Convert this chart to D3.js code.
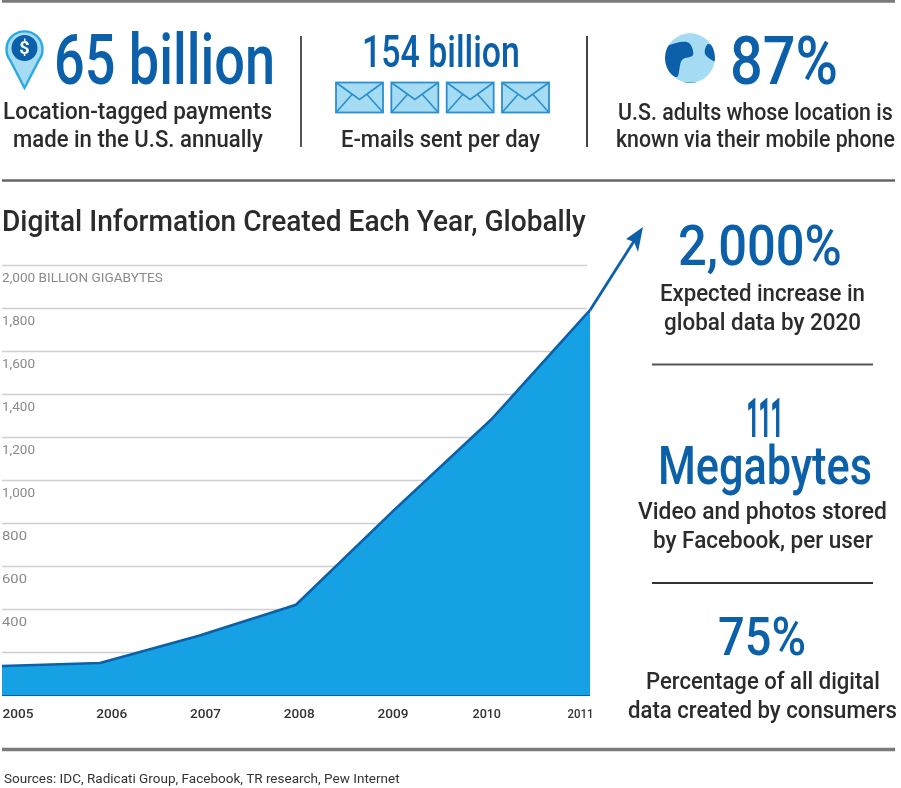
<!DOCTYPE html>
<html><head><meta charset="utf-8">
<script src="https://cdn.jsdelivr.net/npm/d3@7"></script>
<style>html,body{margin:0;padding:0;background:#fff}svg{display:block;filter:blur(0.35px)}text{font-family:Roboto,"Liberation Sans",sans-serif}</style>
</head><body><svg id="c" width="901" height="788"></svg>
<script>
const years = [2005, 2006, 2007, 2008, 2009, 2010, 2011];
const infoBillions = [135, 149, 274, 420, 860, 1285, 1790];
const gridTicks = [0, 200, 400, 600, 800, 1000, 1200, 1400, 1600, 1800, 2000];
const hiddenTickLabels = [0, 200];
const envelopes = ["e1", "e2", "e3", "e4"];

const BLUE = "#0b60a9", AREA = "#15a1e4", PALE = "#a5dcf4", INK = "#2b2b2d", RULE = "#7b7b7b";
const svg = d3.select("#c");

// squeeze a text horizontally to the width it has in the condensed original
function squeeze(node, width, tx, ty) {
  const k = width / node.getComputedTextLength();
  const pre = tx === undefined ? "" : `translate(${tx},${ty}) `;
  d3.select(node).attr("transform", `${pre}scale(${k},1)`);
}
function label(t, x0, x1, base, size, color, weight) {
  const s = svg.append("text").attr("font-size", size)
    .attr("font-weight", weight).attr("fill", color).text(t);
  squeeze(s.node(), x1 - x0, x0, base);
  return s;
}
const hero = (t, x0, x1, base, size) => label(t, x0, x1, base, size, BLUE, 500);
const body = (t, x0, x1, base) => label(t, x0, x1, base, 24, INK, 500);
function rule(x1, y1, x2, y2, w, c) {
  svg.append("line").attr("x1", x1).attr("y1", y1).attr("x2", x2).attr("y2", y2)
    .attr("stroke", c || RULE).attr("stroke-width", w);
}

// frame rules
rule(2, 1, 895, 1, 3.5);
rule(2, 180.5, 895, 180.5, 2.5, "#666");
rule(2, 749.5, 895, 749.5, 3.5);
rule(301, 36, 301, 147, 2, "#555");
rule(587, 36, 587, 147, 2, "#444");
rule(652, 364.5, 873, 364.5, 2, "#555");
rule(652, 583, 873, 583, 2, "#333");

// scales
const x = d3.scaleLinear().domain(d3.extent(years)).range([2, 590]);
const y = d3.scaleLinear().domain([0, 2000]).range([695, 265]);
const xLabel = d3.scalePoint().domain(years).range([17.5, 580]);

// grid + value labels
const gridG = svg.append("g").attr("transform", "translate(2,0)")
  .call(d3.axisRight(y).tickValues(gridTicks).tickSize(585)
    .tickFormat(d => hiddenTickLabels.includes(d) ? "" : d === 2000 ? "2,000 BILLION GIGABYTES" : d3.format(",")(d)));
gridG.select(".domain").remove();
gridG.selectAll("line").attr("stroke", "#cfcfd3").attr("stroke-width", 1.6);
gridG.selectAll("text").attr("x", 0).attr("dy", 0).attr("y", 17).attr("text-anchor", "start")
  .attr("font-size", 12.5).attr("fill", "#8a8a8a").style("font-family", "Roboto")
  .each(function (d) {
    if (hiddenTickLabels.includes(d)) return;
    squeeze(this, d === 2000 ? 161 : d >= 1000 ? 33 : 25);
  });

// area + line
const series = years.map((yr, i) => ({ yr, v: infoBillions[i] }));
svg.append("path").datum(series).attr("fill", AREA)
  .attr("d", d3.area().x(d => x(d.yr)).y0(y(0)).y1(d => y(d.v)));
svg.append("path").datum(series).attr("fill", "none").attr("stroke", BLUE).attr("stroke-width", 2.6)
  .attr("stroke-linejoin", "round")
  .attr("d", d3.line().x(d => x(d.yr)).y(d => y(d.v)));
rule(2, 695.5, 590, 695.5, 1, "#0c5e96");

// arrow extending the curve
const last = series[series.length - 1];
svg.append("path").attr("fill", "none").attr("stroke", BLUE).attr("stroke-width", 2.8)
  .attr("d", `M${x(last.yr)},${y(last.v)} L636,238`);
svg.append("path").attr("fill", BLUE).attr("d", "M643,227 L626,239 L634,242 L638,252 Z");

// x axis labels
const xAxisG = svg.append("g").attr("transform", "translate(0,718)")
  .call(d3.axisBottom(xLabel).tickSize(0).tickPadding(0).tickFormat(d3.format("d")));
xAxisG.select(".domain").remove();
xAxisG.selectAll("text").attr("y", 0).attr("dy", 0).attr("font-size", 13.5).attr("fill", "#333")
  .style("font-family", "Roboto").attr("font-weight", 500)
  .each(function (d) {
    const ones = String(d).split("1").length - 1;
    squeeze(this, 31 - ones * 2.5);
  });

// title + source
label("Digital Information Created Each Year, Globally", 2, 586, 231, 30, INK, 500);
label("Sources: IDC, Radicati Group, Facebook, TR research, Pew Internet", 4, 400, 783, 13, "#333", 400);

// top row
hero("65 billion", 54, 275, 84, 70);
body("Location-tagged payments", 3, 272, 119);
body("made in the U.S. annually", 13, 263, 147);
hero("154 billion", 362, 520, 67, 44);
body("E-mails sent per day", 341, 540, 147);
hero("87%", 730, 838, 84, 67);
body("U.S. adults whose location is", 618, 893, 120);
body("known via their mobile phone", 616, 895, 147);

// right column
hero("2,000%", 678, 842, 265, 56);
body("Expected increase in", 660, 865, 301);
body("global data by 2020", 664, 861, 330);
hero("111", 747, 783, 436, 52).attr("stroke", BLUE).attr("stroke-width", 2.2);
hero("Megabytes", 658, 872, 484, 54);
body("Video and photos stored", 638, 887, 519);
body("by Facebook, per user", 653, 873, 548);
hero("75%", 718, 806, 655, 54);
body("Percentage of all digital", 646, 880, 689);
body("data created by consumers", 628, 897, 718);

// pin icon
const pin = svg.append("g");
pin.append("path").attr("fill", PALE).attr("stroke", "#29abe2").attr("stroke-width", 2.4)
  .attr("d", "M24.5,88 L10,60 A18,18 0 1 1 39,60 Z");
pin.append("circle").attr("cx", 24.5).attr("cy", 48).attr("r", 13).attr("fill", BLUE);
pin.append("text").attr("x", 24.5).attr("y", 54).attr("text-anchor", "middle")
  .attr("font-size", 18).attr("font-weight", 700).attr("fill", "#fff").text("$");

// envelopes
const envX = d3.scalePoint().domain(envelopes).range([336, 502]);
const env = svg.selectAll("g.env").data(envelopes).join("g").attr("class", "env")
  .attr("transform", d => `translate(${envX(d)},82.5)`);
env.append("rect").attr("width", 47).attr("height", 30).attr("fill", PALE).attr("stroke", "#2a8fd0").attr("stroke-width", 1.8);
env.append("path").attr("fill", "none").attr("stroke", "#2a8fd0").attr("stroke-width", 1.6)
  .attr("d", "M0,0 L23.5,17 L47,0 M0,30 L16,12 M47,30 L31,12");

// globe icon
const defs = svg.append("defs");
defs.append("clipPath").attr("id", "globe").append("circle").attr("cx", 690).attr("cy", 58).attr("r", 25);
const globe = svg.append("g").attr("clip-path", "url(#globe)");
globe.append("circle").attr("cx", 690).attr("cy", 58).attr("r", 25).attr("fill", PALE);
const blob = d3.line().curve(d3.curveCatmullRomClosed);
globe.append("path").attr("fill", BLUE).attr("d", blob([[662, 50], [676, 43], [689, 43], [693, 55], [682, 60], [677, 77], [669, 72], [662, 60]]));
globe.append("path").attr("fill", BLUE).attr("d", blob([[708, 44], [718, 52], [718, 62], [705, 54]]));
globe.append("path").attr("fill", BLUE).attr("d", "M682,33.5 Q690,32 698,33.5 L698,30 L682,30 Z M684,82 Q690,83 696,82 L696,85 L684,85 Z");
</script></body></html>
